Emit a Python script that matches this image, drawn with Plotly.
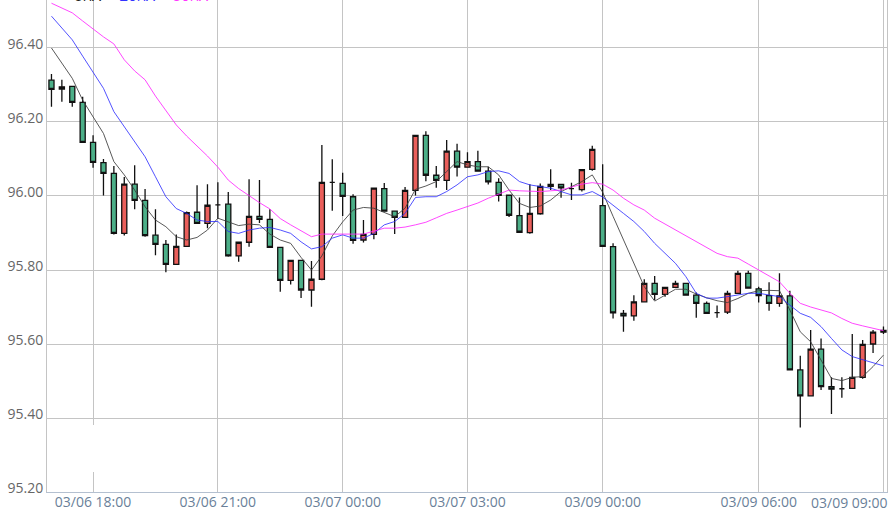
import plotly.graph_objects as go

# ---- data ----
open_ = [96.313, 96.289, 96.296, 96.253, 96.145, 96.090, 96.061, 95.899, 96.032, 95.988,
         95.894, 95.869, 95.815, 95.864, 95.956, 95.926, 95.976, 95.978, 95.838, 95.875,
         95.945, 95.937, 95.861, 95.772, 95.826, 95.746, 95.775, 96.037, 96.034, 95.998,
         95.881, 95.896, 96.020, 95.959, 95.942, 96.015, 96.164, 96.056, 96.042, 96.121,
         96.078, 96.093, 96.067, 96.037, 96.002, 95.947, 95.901, 95.952, 96.026, 96.031,
         96.020, 96.017, 96.072, 95.974, 95.863, 95.683, 95.676, 95.714, 95.764, 95.734,
         95.753, 95.764, 95.732, 95.710, 95.685, 95.686, 95.737, 95.791, 95.749, 95.731,
         95.710, 95.730, 95.530, 95.460, 95.586, 95.485, 95.479, 95.480, 95.510, 95.600,
         95.632]
high = [96.330, 96.314, 96.297, 96.268, 96.164, 96.100, 96.081, 96.051, 96.083, 96.019,
        95.964, 95.881, 95.896, 95.958, 96.029, 96.032, 96.037, 96.011, 95.875, 96.045,
        96.043, 95.964, 95.862, 95.826, 95.827, 95.824, 96.138, 96.099, 96.063, 96.005,
        95.935, 96.021, 96.035, 95.959, 96.024, 96.164, 96.175, 96.081, 96.151, 96.141,
        96.118, 96.122, 96.079, 96.048, 96.002, 95.996, 96.032, 96.034, 96.072, 96.031,
        96.036, 96.071, 96.136, 96.086, 95.872, 95.692, 95.732, 95.775, 95.784, 95.755,
        95.771, 95.764, 95.739, 95.715, 95.704, 95.744, 95.798, 95.798, 95.755, 95.767,
        95.791, 95.744, 95.568, 95.638, 95.615, 95.510, 95.510, 95.627, 95.611, 95.638,
        95.647]
low = [96.241, 96.255, 96.241, 96.143, 96.076, 96.001, 95.896, 95.893, 95.964, 95.890,
       95.840, 95.794, 95.815, 95.862, 95.924, 95.913, 95.938, 95.836, 95.822, 95.863,
       95.927, 95.860, 95.741, 95.761, 95.724, 95.701, 95.772, 95.960, 95.946, 95.871,
       95.874, 95.883, 95.959, 95.897, 95.942, 96.001, 96.040, 96.022, 96.016, 96.053,
       96.078, 96.066, 96.031, 95.985, 95.943, 95.902, 95.898, 95.949, 96.016, 95.995,
       95.989, 96.012, 96.068, 95.862, 95.669, 95.633, 95.663, 95.714, 95.719, 95.728,
       95.753, 95.732, 95.671, 95.683, 95.671, 95.681, 95.737, 95.751, 95.712, 95.690,
       95.701, 95.530, 95.374, 95.460, 95.476, 95.411, 95.455, 95.480, 95.506, 95.576,
       95.627]
close = [96.288, 96.295, 96.253, 96.145, 96.091, 96.061, 95.899, 96.032, 95.988, 95.893,
         95.869, 95.815, 95.864, 95.955, 95.926, 95.975, 95.976, 95.838, 95.875, 95.945,
         95.937, 95.861, 95.772, 95.826, 95.746, 95.775, 96.037, 96.037, 95.999, 95.880,
         95.896, 96.021, 95.959, 95.942, 96.015, 96.164, 96.056, 96.042, 96.121, 96.078,
         96.093, 96.067, 96.038, 96.002, 95.948, 95.902, 95.953, 96.026, 96.031, 96.022,
         96.020, 96.071, 96.126, 95.864, 95.684, 95.676, 95.714, 95.764, 95.734, 95.753,
         95.764, 95.732, 95.710, 95.683, 95.685, 95.737, 95.791, 95.751, 95.731, 95.710,
         95.730, 95.530, 95.460, 95.586, 95.485, 95.478, 95.479, 95.510, 95.599, 95.632,
         95.637]

ma5 = [96.400, 96.359, 96.318, 96.259, 96.214, 96.169, 96.093, 96.057, 96.016, 95.971,
       95.935, 95.917, 95.890, 95.881, 95.888, 95.908, 95.940, 95.931, 95.920, 95.924,
       95.922, 95.897, 95.881, 95.872, 95.834, 95.800, 95.838, 95.892, 95.930, 95.962,
       95.969, 95.967, 95.955, 95.944, 95.967, 96.018, 96.027, 96.039, 96.066, 96.093,
       96.084, 96.079, 96.079, 96.057, 96.016, 95.980, 95.969, 95.973, 95.989, 96.012,
       96.025, 96.039, 96.057, 96.010, 95.945, 95.880, 95.816, 95.755, 95.716, 95.732,
       95.748, 95.748, 95.735, 95.725, 95.717, 95.712, 95.723, 95.737, 95.744, 95.745,
       95.744, 95.692, 95.633, 95.606, 95.557, 95.507, 95.501, 95.510, 95.512, 95.539,
       95.570]
ma10 = [96.486, 96.454, 96.422, 96.378, 96.336, 96.291, 96.228, 96.187, 96.147, 96.106,
        96.052, 95.998, 95.966, 95.953, 95.935, 95.931, 95.931, 95.904, 95.899, 95.908,
        95.913, 95.915, 95.908, 95.899, 95.876, 95.857, 95.863, 95.886, 95.895, 95.886,
        95.886, 95.899, 95.922, 95.931, 95.953, 95.996, 95.998, 95.998, 96.012, 96.030,
        96.052, 96.057, 96.066, 96.068, 96.061, 96.039, 96.030, 96.025, 96.021, 96.012,
        96.003, 96.003, 96.012, 95.997, 95.976, 95.953, 95.931, 95.904, 95.872, 95.845,
        95.818, 95.782, 95.737, 95.724, 95.724, 95.728, 95.732, 95.737, 95.737, 95.732,
        95.728, 95.705, 95.683, 95.672, 95.647, 95.615, 95.584, 95.566, 95.557, 95.549,
        95.541]
ma30 = [96.521, 96.509, 96.495, 96.473, 96.451, 96.430, 96.411, 96.368, 96.338, 96.314,
        96.270, 96.230, 96.192, 96.162, 96.135, 96.108, 96.078, 96.043, 96.020, 96.000,
        95.982, 95.965, 95.939, 95.922, 95.905, 95.890, 95.897, 95.897, 95.897, 95.897,
        95.897, 95.905, 95.913, 95.913, 95.916, 95.922, 95.929, 95.941, 95.953, 95.962,
        95.971, 95.981, 95.994, 96.005, 96.016, 96.014, 96.013, 96.012, 96.014, 96.016,
        96.024, 96.032, 96.036, 96.032, 96.016, 95.994, 95.976, 95.962, 95.940, 95.924,
        95.908, 95.892, 95.876, 95.861, 95.845, 95.836, 95.832, 95.816, 95.800, 95.784,
        95.768, 95.737, 95.710, 95.700, 95.692, 95.684, 95.669, 95.656, 95.649, 95.642,
        95.636]

tick_index = [4, 16, 28, 40, 53, 68, 80]
tick_labels = ["03/06 18:00", "03/06 21:00", "03/07 00:00", "03/07 03:00",
               "03/09 00:00", "03/09 06:00", "03/09 09:00"]
y_ticks = [95.2, 95.4, 95.6, 95.8, 96.0, 96.2, 96.4]
ma_names = ["5MA", "10MA", "30MA"]

# ---- figure ----
xs = list(range(len(close)))
RED = "#EA5F5B"
GREEN = "#4CAF88"
FONT = "Open Sans"

fig = go.Figure()
fig.add_trace(go.Candlestick(
    x=xs, open=open_, high=high, low=low, close=close,
    increasing=dict(fillcolor=RED, line=dict(color="#111111", width=1.3)),
    decreasing=dict(fillcolor=GREEN, line=dict(color="#111111", width=1.3)),
    whiskerwidth=0, showlegend=False, hoverinfo="skip",
))
ma_colors = ["rgba(60,60,60,0.85)", "rgba(40,40,255,0.8)", "rgba(255,40,255,0.85)"]
for name, vals, col in zip(ma_names, [ma5, ma10, ma30], ma_colors):
    fig.add_trace(go.Scatter(x=xs, y=vals, mode="lines", name=name,
                             line=dict(color=col, width=1), showlegend=False,
                             hoverinfo="skip"))

# legend text at the very top (mostly cut off by the page edge, as in the reference)
leg_x = [72, 117, 170]
leg_cols = ["#222222", "#3333ff", "#ff33ff"]
for name, px, col in zip(ma_names, leg_x, leg_cols):
    fig.add_annotation(xref="paper", yref="paper", x=(px - 47) / 840, y=1,
                       xanchor="left", yanchor="bottom", yshift=-8, showarrow=False,
                       text=name, font=dict(family="Liberation Mono", size=15, color=col))

# last x label, right aligned inside the page
fig.add_annotation(xref="paper", yref="paper", x=1, y=0, xanchor="right", yanchor="top",
                   xshift=3, yshift=1, showarrow=False, text=tick_labels[-1],
                   font=dict(family=FONT, size=14, color="#6a7f99"))

# small blank patch over the lower-left grid, as in the reference
fig.add_shape(type="rect", xref="paper", yref="paper", layer="above",
              x0=(62 - 47) / 840, x1=(150 - 47) / 840,
              y0=(492 - 472) / 492, y1=(492 - 425) / 492,
              fillcolor="white", line=dict(width=0))

fig.update_layout(
    width=892, height=517,
    margin=dict(l=47, r=5, t=0, b=25),
    paper_bgcolor="white", plot_bgcolor="white",
    xaxis=dict(
        range=[-0.43, 80.34], rangeslider=dict(visible=False),
        tickmode="array", tickvals=tick_index,
        ticktext=tick_labels[:-1] + [""],
        showgrid=True, gridcolor="#c4c4c4", gridwidth=1,
        showline=True, linecolor="#b4c0d0", linewidth=1,
        ticks="", zeroline=False, ticklabelstandoff=-3,
        tickfont=dict(family=FONT, size=14, color="#6a7f99"),
    ),
    yaxis=dict(
        range=[95.2, 96.5297], tickmode="array", tickvals=y_ticks,
        tickformat=".2f",
        showgrid=True, gridcolor="#c4c4c4", gridwidth=1,
        showline=True, linecolor="#c4c4c4", linewidth=1, mirror=True,
        ticks="", zeroline=False, ticklabelshift=-4,
        tickfont=dict(family=FONT, size=14, color="#666666"),
    ),
)

fig.write_html("out.html")
